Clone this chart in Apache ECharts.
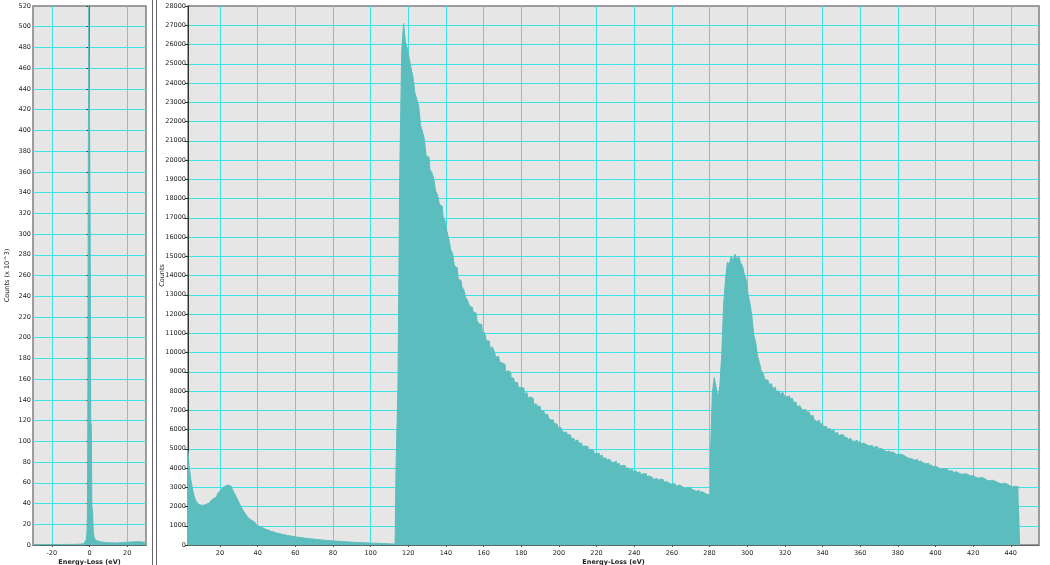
<!DOCTYPE html>
<html><head><meta charset="utf-8">
<script src="https://cdn.jsdelivr.net/npm/echarts@6/dist/echarts.min.js"></script>
<style>html,body{margin:0;padding:0;background:#fff}#c{width:1050px;height:565px}</style>
</head><body><div id="c"></div>
<script>
// ---- Left panel: zero-loss region (counts x 10^3) ----
const leftEnergy = [-30, -20, -10, -5, -3, -2, -1.5, -1.2, -1.0, -0.8, -0.5, -0.2, 0.2, 0.5, 0.8, 1.1, 1.4, 1.8, 2.2, 2.6, 3, 4, 5, 7, 10, 13, 16, 19, 22, 25, 28, 30];
const leftCounts = [0.4, 0.5, 0.6, 0.8, 1.2, 2.5, 5, 12, 30, 118, 355, 530, 530, 300, 118, 116, 37, 34, 12, 8, 5.5, 4, 3, 2.5, 2.2, 2.0, 2.2, 2.6, 3.0, 3.2, 2.8, 2.6];

// ---- Right panel: core-loss region (counts), one channel per eV ----
const rightStartEnergy = 3;
const rightChannelWidth = 1;
const rightCounts = [
  4900, 4150, 3400, 2850, 2450, 2250, 2120, 2070, 2060, 2090,
  2130, 2190, 2260, 2340, 2430, 2530, 2640, 2750, 2870, 2980,
  3070, 3120, 3110, 3040, 2900, 2720, 2520, 2320, 2120, 1930,
  1760, 1610, 1480, 1370, 1270, 1180, 1100, 1030, 970, 915,
  865, 820, 780, 745, 710, 680, 650, 622, 596, 572,
  550, 528, 508, 490, 472, 455, 438, 422, 408, 394,
  380, 367, 355, 343, 332, 321, 310, 300, 290, 280,
  270, 261, 252, 243, 235, 227, 219, 211, 204, 197,
  190, 183, 176, 170, 164, 158, 152, 146, 141, 136,
  131, 126, 121, 116, 112, 108, 104, 100, 96, 92,
  88, 84, 80, 76, 72, 68, 64, 60, 56, 52,
  48, 4000, 8200, 19500, 25600, 27100, 26100, 25800, 25250, 24750,
  24300, 23500, 23150, 22850, 21800, 21500, 21100, 20200, 20150, 19500,
  19350, 19050, 18400, 18200, 17700, 17600, 17050, 16850, 16300, 15900,
  15350, 15150, 14500, 14400, 13800, 13750, 13400, 13250, 12850, 12700,
  12400, 12350, 12100, 12050, 11650, 11500, 11450, 10900, 11050, 10600,
  10600, 10150, 10300, 10100, 9750, 9800, 9500, 9450, 9370, 8970,
  9050, 8970, 8700, 8660, 8420, 8450, 8180, 8190, 8140, 7840,
  7930, 7640, 7690, 7600, 7310, 7330, 7200, 7210, 6960, 6960,
  6780, 6790, 6620, 6490, 6500, 6310, 6280, 6090, 6100, 5980,
  5840, 5870, 5710, 5730, 5550, 5530, 5380, 5460, 5280, 5300,
  5120, 5140, 5110, 4930, 4970, 4900, 4740, 4750, 4770, 4610,
  4670, 4490, 4530, 4400, 4460, 4330, 4280, 4350, 4190, 4240,
  4090, 4140, 4100, 3950, 4010, 3880, 3960, 3800, 3860, 3750,
  3800, 3660, 3700, 3700, 3530, 3590, 3510, 3550, 3400, 3470,
  3360, 3410, 3390, 3250, 3300, 3220, 3280, 3150, 3190, 3170,
  3050, 3120, 3030, 3070, 2930, 2990, 2900, 2950, 2850, 2870,
  2790, 2840, 2730, 2780, 2690, 2740, 2610, 2640, 4700, 7900,
  8700, 8200, 7600, 8300, 9900, 12500, 13800, 14700, 14550, 15000,
  14750, 15100, 14850, 15000, 14650, 14500, 14050, 13750, 13000, 12550,
  11900, 10900, 10550, 9800, 9480, 9040, 8900, 8570, 8570, 8370,
  8360, 8120, 8190, 7960, 8000, 7830, 7930, 7770, 7690, 7750,
  7600, 7620, 7410, 7410, 7170, 7240, 7130, 6990, 7050, 6910,
  6910, 6700, 6730, 6510, 6420, 6470, 6300, 6300, 6130, 6170,
  6020, 6050, 5920, 5970, 5800, 5840, 5690, 5730, 5700, 5560,
  5590, 5470, 5540, 5420, 5380, 5440, 5330, 5370, 5250, 5300,
  5200, 5250, 5140, 5180, 5040, 5110, 5090, 4970, 5020, 4930,
  4970, 4840, 4890, 4780, 4840, 4750, 4810, 4690, 4720, 4630,
  4670, 4570, 4610, 4490, 4480, 4500, 4400, 4450, 4330, 4360,
  4270, 4310, 4210, 4250, 4130, 4160, 4050, 4100, 4010, 4030,
  3940, 3980, 3900, 3940, 3840, 3870, 3860, 3750, 3810, 3730,
  3770, 3670, 3700, 3620, 3680, 3590, 3560, 3600, 3520, 3550,
  3470, 3510, 3430, 3460, 3360, 3410, 3330, 3370, 3270, 3300,
  3230, 3270, 3170, 3210, 3110, 3170, 3080, 3110, 3020, 3050,
  2980, 3010, 2950
];

const leftXRange = [-30, 30];
const rightXRange = [3, 455];
const leftYMax = 520, leftYStep = 20;
const rightYMax = 28000, rightYStep = 1000;
const xTickStep = 20;

const xTitle = 'Energy-Loss (eV)';
const leftYTitle = 'Counts (x 10^3)';
const rightYTitle = 'Counts';

const leftData = leftEnergy.map((e, i) => [e, leftCounts[i]]);
const rightData = rightCounts.map((c, i) => [rightStartEnergy + i * rightChannelWidth, c]);

const FILL = '#5BBDBD';
const GRIDC = '#3DE3E3';
const FONT = 'DejaVu Sans';
const lab = { fontFamily: FONT, fontSize: 6.5, color: '#222' };

function xAxis(gi, range) {
  return {
    type: 'value', gridIndex: gi, min: range[0], max: range[1],
    minInterval: xTickStep, maxInterval: xTickStep, splitNumber: 20,
    name: xTitle, nameLocation: 'middle', nameGap: 13.5, nameMoveOverlap: false,
    nameTextStyle: { fontFamily: FONT, fontSize: 6.5, fontWeight: 'bold', color: '#222' },
    axisLine: { show: true, onZero: false, lineStyle: { color: '#666', width: 1 } },
    axisTick: { show: true, inside: false, length: 2, lineStyle: { color: '#555' } },
    axisLabel: Object.assign({ margin: 5, showMinLabel: false, showMaxLabel: false, formatter: v => String(v) }, lab),
    splitLine: { show: true, showMinLine: false, showMaxLine: false, lineStyle: { color: GRIDC, width: 1 } }
  };
}
function yAxis(gi, max, step, title, gap) {
  return {
    type: 'value', gridIndex: gi, min: 0, max: max, interval: step,
    name: title, nameLocation: 'middle', nameGap: gap, nameRotate: 90, nameMoveOverlap: false,
    nameTextStyle: { fontFamily: FONT, fontSize: 6.5, color: '#222' },
    axisLine: { show: true, lineStyle: { color: '#333', width: 1 } },
    axisTick: { show: true, inside: false, length: 3, lineStyle: { color: '#333' } },
    axisLabel: Object.assign({ margin: 2, formatter: v => String(v) }, lab),
    splitLine: { show: true, showMinLine: false, showMaxLine: false, lineStyle: { color: GRIDC, width: 1 } }
  };
}

const chart = echarts.init(document.getElementById('c'), null, { renderer: 'canvas' });
chart.setOption({
  animation: false,
  backgroundColor: '#ffffff',
  grid: [
    { left: 33, right: 904, top: 6, bottom: 20, containLabel: false, outerBoundsMode: 'none',
      show: true, backgroundColor: '#E6E6E6', borderColor: '#808080', borderWidth: 1.5 },
    { left: 188, right: 11, top: 6, bottom: 20, containLabel: false, outerBoundsMode: 'none',
      show: true, backgroundColor: '#E6E6E6', borderColor: '#808080', borderWidth: 1.5 }
  ],
  xAxis: [xAxis(0, leftXRange), xAxis(1, rightXRange)],
  yAxis: [yAxis(0, leftYMax, leftYStep, leftYTitle, 22), yAxis(1, rightYMax, rightYStep, rightYTitle, 22)],
  graphic: [
    { type: 'line', shape: { x1: 152.5, y1: 0, x2: 152.5, y2: 565 }, style: { stroke: '#666', lineWidth: 1 } },
    { type: 'line', shape: { x1: 156.5, y1: 0, x2: 156.5, y2: 565 }, style: { stroke: '#666', lineWidth: 1 } }
  ],
  series: [
    { type: 'line', xAxisIndex: 0, yAxisIndex: 0, data: leftData, step: 'middle', symbol: 'none',
      lineStyle: { color: FILL, width: 1 }, areaStyle: { color: FILL, opacity: 1 }, clip: true },
    { type: 'line', xAxisIndex: 1, yAxisIndex: 1, data: rightData, step: 'middle', symbol: 'none',
      lineStyle: { color: FILL, width: 1 }, areaStyle: { color: FILL, opacity: 1 }, clip: true }
  ]
});
</script></body></html>
